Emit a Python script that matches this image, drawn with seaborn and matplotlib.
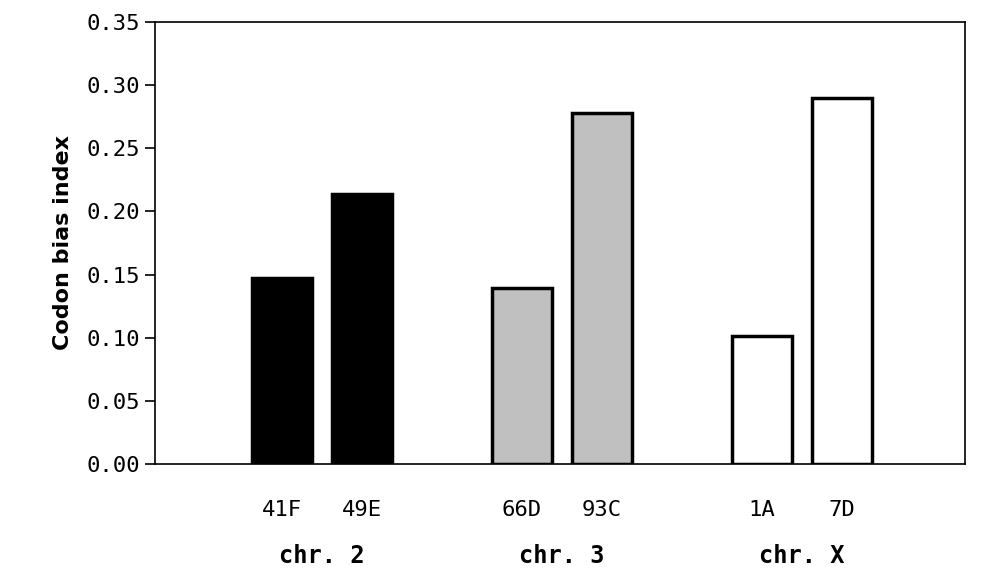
import matplotlib
matplotlib.use("Agg")
import matplotlib.pyplot as plt
import seaborn as sns
import pandas as pd

groups = ["chr. 2", "chr. 3", "chr. X"]
labels = ["41F", "49E", "66D", "93C", "1A", "7D"]
values = [0.147, 0.214, 0.139, 0.278, 0.101, 0.290]
colors = ["black", "black", "#c0c0c0", "#c0c0c0", "white", "white"]

pos = []
for i in range(len(labels)):
    g, s = divmod(i, 2)
    pos.append(g + (-1/6 if s == 0 else 1/6))
df = pd.DataFrame({"x": pos, "v": values, "lab": labels})

sns.set_style("white")
plt.rcParams["font.family"] = ["DejaVu Sans Mono", "DejaVu Sans"]
plt.rcParams["text.color"] = "black"
plt.rcParams["axes.labelcolor"] = "black"
plt.rcParams["xtick.color"] = "black"
plt.rcParams["ytick.color"] = "black"
fig = plt.figure(figsize=(9.86, 5.79), dpi=100)
ax = fig.add_axes([155/986, 115/579, 810/986, 442/579])
sns.barplot(data=df, x="x", y="v", hue="lab", hue_order=labels, native_scale=True,
            palette=dict(zip(labels, colors)), width=0.75, dodge=False,
            edgecolor="black", linewidth=2.5, legend=False, ax=ax)
ax.set_xlim(-0.696, 2.68)
ax.set_ylim(0, 0.35)
ax.set_yticks([i*0.05 for i in range(8)])
ax.set_yticklabels([f"{i*0.05:.2f}" for i in range(8)], fontsize=16)
ax.tick_params(axis="y", direction="out", length=7, width=1.2, left=True, colors="black")
ax.set_xticks(pos)
ax.set_xticklabels(labels, fontsize=16)
ax.tick_params(axis="x", length=0, pad=26, colors="black")
for i, g in enumerate(groups):
    ax.text(i, -0.073, g, ha="center", va="center", fontsize=17, fontweight="bold",
            color="black", transform=ax.transData)
ax.set_xlabel("")
ax.set_ylabel("Codon bias index", fontsize=16, fontweight="bold", labelpad=10,
              family="DejaVu Sans", color="black")
for s in ax.spines.values():
    s.set_visible(True); s.set_color("black"); s.set_linewidth(1.2)
fig.savefig("out.png", dpi=100)
